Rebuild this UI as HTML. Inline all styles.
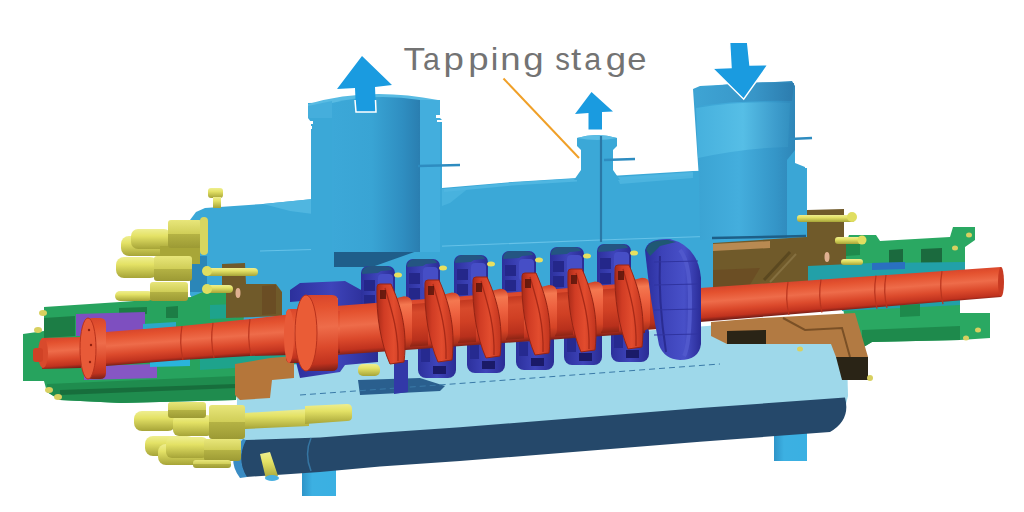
<!DOCTYPE html>
<html><head><meta charset="utf-8">
<style>
html,body{margin:0;padding:0;background:#fff;width:1024px;height:512px;overflow:hidden}
svg{display:block}
.lbl{font-family:"Liberation Sans",sans-serif;font-size:31px;fill:#737373}
</style></head>
<body>
<svg width="1024" height="512" viewBox="0 0 1024 512">
<defs>
<linearGradient id="ltw" x1="0" y1="0" x2="1" y2="0"><stop offset="0" stop-color="#3ca8d8"/><stop offset="0.45" stop-color="#39a4d4"/><stop offset="0.8" stop-color="#2f8ec1"/><stop offset="1" stop-color="#2a7eb0"/></linearGradient>
<linearGradient id="rtw" x1="0" y1="0" x2="1" y2="0"><stop offset="0" stop-color="#3aa2d2"/><stop offset="0.45" stop-color="#44aedd"/><stop offset="0.8" stop-color="#3596c8"/><stop offset="1" stop-color="#2e86b8"/></linearGradient>
<linearGradient id="rtop" x1="0" y1="0" x2="1" y2="0"><stop offset="0" stop-color="#3ea4d4"/><stop offset="0.6" stop-color="#3896c8"/><stop offset="1" stop-color="#2c7cae"/></linearGradient>
<linearGradient id="rband" x1="0" y1="0" x2="1" y2="0"><stop offset="0" stop-color="#46b0dd"/><stop offset="0.5" stop-color="#56bee6"/><stop offset="0.85" stop-color="#3d9ccc"/><stop offset="1" stop-color="#3390c0"/></linearGradient>
<linearGradient id="foot" x1="0" y1="0" x2="1" y2="0"><stop offset="0" stop-color="#2e94c8"/><stop offset="0.3" stop-color="#3cb0e2"/><stop offset="1" stop-color="#3ab0e2"/></linearGradient>
<linearGradient id="navy" x1="0" y1="0" x2="1" y2="0"><stop offset="0" stop-color="#2c309c"/><stop offset="0.5" stop-color="#3e44ba"/><stop offset="1" stop-color="#2a2c94"/></linearGradient>
<linearGradient id="sg1" gradientUnits="userSpaceOnUse" x1="850.5" y1="277.5" x2="852.9" y2="309.5"><stop offset="0" stop-color="#d8462c"/><stop offset="0.15" stop-color="#e4522f"/><stop offset="0.42" stop-color="#ee6c4a"/><stop offset="0.68" stop-color="#dc4a2c"/><stop offset="0.9" stop-color="#c0321e"/><stop offset="1" stop-color="#7a2018"/></linearGradient>
<linearGradient id="sg2" gradientUnits="userSpaceOnUse" x1="490.5" y1="294.0" x2="494.2" y2="344.0"><stop offset="0" stop-color="#d8462c"/><stop offset="0.15" stop-color="#e4522f"/><stop offset="0.42" stop-color="#ee6c4a"/><stop offset="0.68" stop-color="#dc4a2c"/><stop offset="0.9" stop-color="#c0321e"/><stop offset="1" stop-color="#7a2018"/></linearGradient>
<linearGradient id="sg3" gradientUnits="userSpaceOnUse" x1="315.0" y1="312.5" x2="318.1" y2="354.0"><stop offset="0" stop-color="#d8462c"/><stop offset="0.15" stop-color="#e4522f"/><stop offset="0.42" stop-color="#ee6c4a"/><stop offset="0.68" stop-color="#dc4a2c"/><stop offset="0.9" stop-color="#c0321e"/><stop offset="1" stop-color="#7a2018"/></linearGradient>
<linearGradient id="sg4" gradientUnits="userSpaceOnUse" x1="271.0" y1="316.5" x2="273.9" y2="355.5"><stop offset="0" stop-color="#d8462c"/><stop offset="0.15" stop-color="#e4522f"/><stop offset="0.42" stop-color="#ee6c4a"/><stop offset="0.68" stop-color="#dc4a2c"/><stop offset="0.9" stop-color="#c0321e"/><stop offset="1" stop-color="#7a2018"/></linearGradient>
<linearGradient id="sg5" gradientUnits="userSpaceOnUse" x1="216.0" y1="322.5" x2="218.6" y2="358.0"><stop offset="0" stop-color="#d8462c"/><stop offset="0.15" stop-color="#e4522f"/><stop offset="0.42" stop-color="#ee6c4a"/><stop offset="0.68" stop-color="#dc4a2c"/><stop offset="0.9" stop-color="#c0321e"/><stop offset="1" stop-color="#7a2018"/></linearGradient>
<linearGradient id="sg6" gradientUnits="userSpaceOnUse" x1="144.0" y1="329.0" x2="146.5" y2="363.0"><stop offset="0" stop-color="#d8462c"/><stop offset="0.15" stop-color="#e4522f"/><stop offset="0.42" stop-color="#ee6c4a"/><stop offset="0.68" stop-color="#dc4a2c"/><stop offset="0.9" stop-color="#c0321e"/><stop offset="1" stop-color="#7a2018"/></linearGradient>
<linearGradient id="sg7" gradientUnits="userSpaceOnUse" x1="61.5" y1="337.5" x2="63.8" y2="368.5"><stop offset="0" stop-color="#d8462c"/><stop offset="0.15" stop-color="#e4522f"/><stop offset="0.42" stop-color="#ee6c4a"/><stop offset="0.68" stop-color="#dc4a2c"/><stop offset="0.9" stop-color="#c0321e"/><stop offset="1" stop-color="#7a2018"/></linearGradient>
<linearGradient id="sg8" gradientUnits="userSpaceOnUse" x1="96.0" y1="318.0" x2="100.5" y2="379.0"><stop offset="0" stop-color="#d8462c"/><stop offset="0.15" stop-color="#e4522f"/><stop offset="0.42" stop-color="#ee6c4a"/><stop offset="0.68" stop-color="#dc4a2c"/><stop offset="0.9" stop-color="#c0321e"/><stop offset="1" stop-color="#7a2018"/></linearGradient>
<linearGradient id="sg9" gradientUnits="userSpaceOnUse" x1="294.0" y1="309.0" x2="298.0" y2="363.0"><stop offset="0" stop-color="#d8462c"/><stop offset="0.15" stop-color="#e4522f"/><stop offset="0.42" stop-color="#ee6c4a"/><stop offset="0.68" stop-color="#dc4a2c"/><stop offset="0.9" stop-color="#c0321e"/><stop offset="1" stop-color="#7a2018"/></linearGradient>
<linearGradient id="sg10" gradientUnits="userSpaceOnUse" x1="321.0" y1="295.0" x2="326.6" y2="371.0"><stop offset="0" stop-color="#d8462c"/><stop offset="0.15" stop-color="#e4522f"/><stop offset="0.42" stop-color="#ee6c4a"/><stop offset="0.68" stop-color="#dc4a2c"/><stop offset="0.9" stop-color="#c0321e"/><stop offset="1" stop-color="#7a2018"/></linearGradient>
<linearGradient id="imp" x1="0" y1="0" x2="1" y2="0"><stop offset="0" stop-color="#a82a18"/><stop offset="0.25" stop-color="#d03c24"/><stop offset="0.6" stop-color="#e24c2e"/><stop offset="1" stop-color="#c0341e"/></linearGradient>
<linearGradient id="sg11" gradientUnits="userSpaceOnUse" x1="419.0" y1="303.6" x2="422.1" y2="346.1"><stop offset="0" stop-color="#c23820"/><stop offset="0.2" stop-color="#d84a2c"/><stop offset="0.5" stop-color="#d04024"/><stop offset="0.85" stop-color="#b8301c"/><stop offset="1" stop-color="#8a2414"/></linearGradient>
<linearGradient id="sg12" gradientUnits="userSpaceOnUse" x1="401.0" y1="297.1" x2="404.8" y2="348.4"><stop offset="0" stop-color="#d04428"/><stop offset="0.15" stop-color="#f47850"/><stop offset="0.4" stop-color="#ee6240"/><stop offset="0.8" stop-color="#d64426"/><stop offset="1" stop-color="#a02c18"/></linearGradient>
<linearGradient id="sg13" gradientUnits="userSpaceOnUse" x1="467.0" y1="299.8" x2="470.2" y2="342.7"><stop offset="0" stop-color="#c23820"/><stop offset="0.2" stop-color="#d84a2c"/><stop offset="0.5" stop-color="#d04024"/><stop offset="0.85" stop-color="#b8301c"/><stop offset="1" stop-color="#8a2414"/></linearGradient>
<linearGradient id="sg14" gradientUnits="userSpaceOnUse" x1="449.0" y1="293.3" x2="452.8" y2="345.0"><stop offset="0" stop-color="#d04428"/><stop offset="0.15" stop-color="#f47850"/><stop offset="0.4" stop-color="#ee6240"/><stop offset="0.8" stop-color="#d64426"/><stop offset="1" stop-color="#a02c18"/></linearGradient>
<linearGradient id="sg15" gradientUnits="userSpaceOnUse" x1="515.0" y1="296.1" x2="518.2" y2="339.2"><stop offset="0" stop-color="#c23820"/><stop offset="0.2" stop-color="#d84a2c"/><stop offset="0.5" stop-color="#d04024"/><stop offset="0.85" stop-color="#b8301c"/><stop offset="1" stop-color="#8a2414"/></linearGradient>
<linearGradient id="sg16" gradientUnits="userSpaceOnUse" x1="497.0" y1="289.6" x2="500.8" y2="341.6"><stop offset="0" stop-color="#d04428"/><stop offset="0.15" stop-color="#f47850"/><stop offset="0.4" stop-color="#ee6240"/><stop offset="0.8" stop-color="#d64426"/><stop offset="1" stop-color="#a02c18"/></linearGradient>
<linearGradient id="sg17" gradientUnits="userSpaceOnUse" x1="564.0" y1="292.3" x2="567.2" y2="335.8"><stop offset="0" stop-color="#c23820"/><stop offset="0.2" stop-color="#d84a2c"/><stop offset="0.5" stop-color="#d04024"/><stop offset="0.85" stop-color="#b8301c"/><stop offset="1" stop-color="#8a2414"/></linearGradient>
<linearGradient id="sg18" gradientUnits="userSpaceOnUse" x1="546.0" y1="285.8" x2="549.9" y2="338.1"><stop offset="0" stop-color="#d04428"/><stop offset="0.15" stop-color="#f47850"/><stop offset="0.4" stop-color="#ee6240"/><stop offset="0.8" stop-color="#d64426"/><stop offset="1" stop-color="#a02c18"/></linearGradient>
<linearGradient id="sg19" gradientUnits="userSpaceOnUse" x1="610.0" y1="288.7" x2="613.2" y2="332.5"><stop offset="0" stop-color="#c23820"/><stop offset="0.2" stop-color="#d84a2c"/><stop offset="0.5" stop-color="#d04024"/><stop offset="0.85" stop-color="#b8301c"/><stop offset="1" stop-color="#8a2414"/></linearGradient>
<linearGradient id="sg20" gradientUnits="userSpaceOnUse" x1="592.0" y1="282.2" x2="595.9" y2="334.8"><stop offset="0" stop-color="#d04428"/><stop offset="0.15" stop-color="#f47850"/><stop offset="0.4" stop-color="#ee6240"/><stop offset="0.8" stop-color="#d64426"/><stop offset="1" stop-color="#a02c18"/></linearGradient>
<linearGradient id="sg21" gradientUnits="userSpaceOnUse" x1="657.0" y1="285.1" x2="660.3" y2="329.1"><stop offset="0" stop-color="#c23820"/><stop offset="0.2" stop-color="#d84a2c"/><stop offset="0.5" stop-color="#d04024"/><stop offset="0.85" stop-color="#b8301c"/><stop offset="1" stop-color="#8a2414"/></linearGradient>
<linearGradient id="sg22" gradientUnits="userSpaceOnUse" x1="639.0" y1="278.6" x2="642.9" y2="331.5"><stop offset="0" stop-color="#d04428"/><stop offset="0.15" stop-color="#f47850"/><stop offset="0.4" stop-color="#ee6240"/><stop offset="0.8" stop-color="#d64426"/><stop offset="1" stop-color="#a02c18"/></linearGradient>
<linearGradient id="disc" x1="0" y1="0" x2="1" y2="0"><stop offset="0" stop-color="#2a2e9c"/><stop offset="0.3" stop-color="#3c42b8"/><stop offset="0.7" stop-color="#4850c8"/><stop offset="1" stop-color="#2a2c98"/></linearGradient>
<linearGradient id="yel" x1="0" y1="0" x2="0" y2="1"><stop offset="0" stop-color="#eeee90"/><stop offset="0.35" stop-color="#e4e266"/><stop offset="1" stop-color="#a6a438"/></linearGradient>
<linearGradient id="nut" x1="0" y1="0" x2="0" y2="1"><stop offset="0" stop-color="#e8e67a"/><stop offset="0.5" stop-color="#d0ce58"/><stop offset="0.51" stop-color="#b4b244"/><stop offset="1" stop-color="#9c9a34"/></linearGradient>
</defs>
<polygon fill="#3ba8d7" points="190,220 196,212 205,208 263,204 313,199 442,188 512,182 577,178 693,171 807,168 807,300 300,330 207,320 190,295" />
<polygon fill="#50b6e0" points="263,204 313,199 313,214 290,211" />
<polygon fill="#48b2de" points="442,189 470,187 450,203 442,206" />
<polygon fill="#4cb4df" points="617,177 693,172 693,178 620,184" />
<polyline points="444,190.5 512,184 577,180" fill="none" stroke="#4fb6e1" stroke-width="3"/>
<polyline points="618,179 693,174" fill="none" stroke="#4fb6e1" stroke-width="3"/>
<polygon fill="#2b86b8" points="190,256 207,256 207,292 190,292" />
<polyline fill="none" stroke="#66c2e8" stroke-width="1.2" points="260,251 330,249 420,247 600,240 720,236"/>
<polygon fill="#1f5e8a" points="334,245 420,240 420,250 372,267 334,267" />
<path d="M334,245 Q377,252 420,240" fill="none" stroke="#1d5f8c" stroke-width="2"/>
<rect x="377" y="248" width="8" height="3" fill="#1a3550"/>
<polygon fill="#3ba8d7" points="308,103 438,100 438,116 442,120 442,250 311,250 311,122 308,118" />
<path d="M308,104 Q368,86 438,100 L438,105 Q370,94 308,110 Z" fill="#58bbe3"/>
<path d="M308,106 L332,101 L332,118 L308,118 Z" fill="#45aedc"/>
<path d="M332,103 Q374,93 420,100 L420,252 L332,252 Z" fill="url(#ltw)"/>
<rect x="420" y="100" width="20" height="152" fill="#43aedd"/>
<rect x="307" y="121" width="6" height="3" fill="#fff"/><rect x="307" y="126" width="5" height="3" fill="#fff"/>
<rect x="436" y="115" width="7" height="3" fill="#fff"/><rect x="437" y="120" width="6" height="2" fill="#fff"/>
<line x1="418" y1="166" x2="460" y2="165" stroke="#2e8cc0" stroke-width="2.5"/>
<path d="M577,138 Q597,132 617,138 L617,146 L613,150 L613,170 L620,180 L574,180 L581,170 L581,150 L577,146 Z" fill="#3ba8d7"/>
<path d="M577,138 Q597,132 617,138 Q597,142 577,138 Z" fill="#5cbde4"/>
<line x1="601" y1="136" x2="601" y2="242" stroke="#2a78a6" stroke-width="2.2"/>
<line x1="604" y1="160" x2="635" y2="159" stroke="#2e8cc0" stroke-width="2.5"/>
<polygon fill="#3aa6d6" points="786,150 795,150 795,163 805,167 806,236 786,236" />
<path d="M693,89 L700,86 L792,81 L795,86 L795,150 L787,160 L787,238 L700,240 L699,179 Z" fill="url(#rtw)"/>
<path d="M694,89 Q744,80 794,83 L792,101 Q744,100 696,106 Z" fill="url(#rtop)"/>
<path d="M696,108 Q744,100 790,103 L788,147 Q744,148 698,158 Z" fill="url(#rband)"/>
<line x1="790" y1="139" x2="812" y2="138" stroke="#2e8cc0" stroke-width="2.5"/>
<line x1="712" y1="238" x2="806" y2="236" stroke="#1d5f88" stroke-width="2.5"/>
<rect x="302" y="462" width="34" height="34" fill="url(#foot)"/>
<rect x="774" y="428" width="33" height="33" fill="url(#foot)"/>
<polygon fill="#9ed8ea" points="238,362 720,325 846,318 848,396 845,408 245,452 236,440" />
<path d="M245,440 L320,437.5 L380,432.8 L460,427.3 L700,408 L845,397.6 Q851,420 830,432 L700,441.7 L460,461 L380,466.4 L320,472 L246,477 Q236,460 245,440 Z" fill="#25486a"/>
<path d="M243,439 Q225,458 240,478 L247,477 Q236,460 246,440 Z" fill="#3a8cc4"/>
<path d="M311,438 Q304,454 311,471" fill="none" stroke="#3575a2" stroke-width="1.5"/>
<polygon fill="#2a5f8e" points="358,380 420,378 445,386 440,391 360,395" />
<polyline fill="none" stroke="#3a7aa8" stroke-width="1" stroke-dasharray="6,4" points="300,395 480,382 720,364"/>
<polygon fill="#705a2a" points="713,243 790,238 807,237 807,210 844,209 844,240 848,243 848,268 844,270 844,291 713,293" />
<polygon fill="#b88a52" points="713,244 770,241 770,248 713,251" />
<path d="M790,252 L764,280" stroke="#5a4820" stroke-width="3"/>
<path d="M796,254 L770,282" stroke="#857040" stroke-width="2"/>
<polygon fill="#6b4e24" points="713,270 760,268 745,293 713,293" />
<ellipse cx="827" cy="257" rx="2.5" ry="5" fill="#e0b090"/>
<polygon fill="#2aa862" points="846,243 849,235 876,235 880,241 950,237 953,227 975,227 975,240 965,247 965,263 872,266 846,269" />
<polygon fill="#1b6a3e" points="889,250 903,249 903,268 889,268" />
<polygon fill="#1b6a3e" points="921,249 942,248 942,268 921,268" />
<polygon fill="#1e8a4c" points="846,243 860,242 860,255 846,256" />
<polygon fill="#22a0a8" points="808,266 872,263 965,262 965,278 872,282 808,288" />
<polygon fill="#2a70c0" points="872,263 905,262 905,269 872,270" />
<polygon fill="#2aa862" points="842,305 960,298 960,313 990,313 990,338 960,340 872,342 862,348 852,345 846,322" />
<polygon fill="#1e8a4c" points="862,330 960,326 960,340 872,342 862,348" />
<polygon fill="#22a0a8" points="842,303 960,296 960,305 842,311" />
<polygon fill="#1e8a4c" points="900,305 920,304 920,316 900,317" />
<polygon fill="#b27a42" points="711,322 760,318 855,313 868,357 836,357 831,344 766,344 727,344 711,336" />
<polyline points="783,318 805,330 842,328 850,357" fill="none" stroke="#7a5026" stroke-width="2"/>
<polygon fill="#2a2416" points="836,357 868,357 868,380 842,380" />
<polygon fill="#2a2416" points="727,331 766,330 766,344 727,344" />
<ellipse cx="870" cy="378" rx="3" ry="3" fill="#d8d060"/><ellipse cx="800" cy="349" rx="3" ry="2.5" fill="#d8d060"/>
<ellipse cx="969" cy="235" rx="3" ry="2.5" fill="#d8d060"/>
<ellipse cx="955" cy="248" rx="3" ry="2.5" fill="#d8d060"/>
<ellipse cx="978" cy="330" rx="3" ry="2.5" fill="#d8d060"/>
<ellipse cx="966" cy="338" rx="3" ry="2.5" fill="#d8d060"/>
<polygon fill="#27a35e" points="23,334 44,331 44,307 120,302 191,297 217,286 240,286 245,300 240,372 236,400 121,403 60,400 47,392 44,381 23,381" />
<polygon fill="#1c7d45" points="44,318 75,316 75,336 44,338" />
<polygon fill="#1c7d45" points="119,308 147,307 147,314 119,315" />
<polygon fill="#1c7d45" points="166,307 178,306 178,318 166,318" />
<polygon fill="#1f8c4e" points="47,384 236,376 236,400 121,403 60,400 47,392" />
<polygon fill="#176e3c" points="60,390 236,384 236,388 60,395" />
<polygon fill="#7e4fc0" points="76,314 145,312 145,335 76,336" />
<polygon fill="#8656c4" points="84,366 157,364 157,378 84,380" />
<polygon fill="#2aa8c8" points="143,324 176,322 176,331 143,332" />
<polygon fill="#2ab4dc" points="150,361 190,359 190,366 150,367" />
<polygon fill="#1ea38c" points="210,305 236,304 236,318 210,319" />
<polygon fill="#1ea38c" points="200,356 236,354 236,366 200,368" />
<polygon fill="#705a2a" points="222,264 245,263 246,284 276,284 282,292 282,316 226,318 226,290 222,289" />
<polygon fill="#6a4d24" points="262,286 276,285 276,314 262,315" />
<ellipse cx="238" cy="293" rx="2.5" ry="5" fill="#e0b090"/>
<polygon fill="#1ea38c" points="200,352 300,346 300,364 200,370" />
<polygon fill="#b5763a" points="235,364 270,358 294,356 294,378 272,380 270,398 240,400 235,395" />
<ellipse cx="43" cy="313" rx="4" ry="3" fill="#d8d060"/>
<ellipse cx="38" cy="330" rx="4" ry="3" fill="#d8d060"/>
<ellipse cx="49" cy="390" rx="4" ry="3" fill="#d8d060"/>
<ellipse cx="58" cy="397" rx="4" ry="3" fill="#d8d060"/>
<polygon fill="url(#navy)" points="290,290 300,283 345,281 372,296 372,306 338,307 338,298 290,302" />
<polygon fill="url(#navy)" points="296,362 338,352 378,349 378,362 345,365 340,372 300,378" />
<polygon fill="#3238a8" points="394,360 408,360 408,392 394,394" />
<rect x="361" y="266" width="34" height="44" rx="7" fill="url(#navy)"/>
<path d="M362,274 Q362,266 371,266 L383,266 Q391,266 392,270 L381,271 L378,273 Z" fill="#245582"/>
<rect x="364" y="280" width="11" height="11" fill="#24278a"/>
<rect x="364" y="295" width="11" height="11" fill="#24278a"/>
<rect x="378" y="274" width="15" height="22" rx="4" fill="#464ec6"/>
<ellipse cx="398" cy="275" rx="4" ry="2.5" fill="#e8e060"/>
<rect x="406" y="259" width="34" height="51" rx="7" fill="url(#navy)"/>
<path d="M407,267 Q407,259 416,259 L428,259 Q436,259 437,263 L426,264 L423,266 Z" fill="#245582"/>
<rect x="409" y="273" width="11" height="11" fill="#24278a"/>
<rect x="409" y="288" width="11" height="11" fill="#24278a"/>
<rect x="423" y="267" width="15" height="22" rx="4" fill="#464ec6"/>
<ellipse cx="443" cy="268" rx="4" ry="2.5" fill="#e8e060"/>
<rect x="454" y="255" width="34" height="55" rx="7" fill="url(#navy)"/>
<path d="M455,263 Q455,255 464,255 L476,255 Q484,255 485,259 L474,260 L471,262 Z" fill="#245582"/>
<rect x="457" y="269" width="11" height="11" fill="#24278a"/>
<rect x="457" y="284" width="11" height="11" fill="#24278a"/>
<rect x="471" y="263" width="15" height="22" rx="4" fill="#464ec6"/>
<ellipse cx="491" cy="264" rx="4" ry="2.5" fill="#e8e060"/>
<rect x="502" y="251" width="34" height="59" rx="7" fill="url(#navy)"/>
<path d="M503,259 Q503,251 512,251 L524,251 Q532,251 533,255 L522,256 L519,258 Z" fill="#245582"/>
<rect x="505" y="265" width="11" height="11" fill="#24278a"/>
<rect x="505" y="280" width="11" height="11" fill="#24278a"/>
<rect x="519" y="259" width="15" height="22" rx="4" fill="#464ec6"/>
<ellipse cx="539" cy="260" rx="4" ry="2.5" fill="#e8e060"/>
<rect x="550" y="247" width="34" height="63" rx="7" fill="url(#navy)"/>
<path d="M551,255 Q551,247 560,247 L572,247 Q580,247 581,251 L570,252 L567,254 Z" fill="#245582"/>
<rect x="553" y="261" width="11" height="11" fill="#24278a"/>
<rect x="553" y="276" width="11" height="11" fill="#24278a"/>
<rect x="567" y="255" width="15" height="22" rx="4" fill="#464ec6"/>
<ellipse cx="587" cy="256" rx="4" ry="2.5" fill="#e8e060"/>
<rect x="597" y="244" width="34" height="66" rx="7" fill="url(#navy)"/>
<path d="M598,252 Q598,244 607,244 L619,244 Q627,244 628,248 L617,249 L614,251 Z" fill="#245582"/>
<rect x="600" y="258" width="11" height="11" fill="#24278a"/>
<rect x="600" y="273" width="11" height="11" fill="#24278a"/>
<rect x="614" y="252" width="15" height="22" rx="4" fill="#464ec6"/>
<ellipse cx="634" cy="253" rx="4" ry="2.5" fill="#e8e060"/>
<rect x="418" y="338" width="38" height="40" rx="8" fill="url(#navy)"/>
<rect x="421" y="348" width="9" height="14" fill="#262a90"/>
<rect x="433" y="366" width="13" height="8" fill="#1a1a68"/>
<rect x="467" y="335" width="38" height="38" rx="8" fill="url(#navy)"/>
<rect x="470" y="345" width="9" height="14" fill="#262a90"/>
<rect x="482" y="361" width="13" height="8" fill="#1a1a68"/>
<rect x="516" y="332" width="38" height="38" rx="8" fill="url(#navy)"/>
<rect x="519" y="342" width="9" height="14" fill="#262a90"/>
<rect x="531" y="358" width="13" height="8" fill="#1a1a68"/>
<rect x="564" y="328" width="38" height="37" rx="8" fill="url(#navy)"/>
<rect x="567" y="338" width="9" height="14" fill="#262a90"/>
<rect x="579" y="353" width="13" height="8" fill="#1a1a68"/>
<rect x="611" y="324" width="38" height="38" rx="8" fill="url(#navy)"/>
<rect x="614" y="334" width="9" height="14" fill="#262a90"/>
<rect x="626" y="350" width="13" height="8" fill="#1a1a68"/>
<polygon fill="url(#sg1)" points="700,288 1001,267 1001,297 700,322" />
<ellipse cx="1001" cy="282" rx="3" ry="15" fill="#c83a22"/>
<path d="M788,281.8 Q785,298.8 789,314.8" fill="none" stroke="#b8341e" stroke-width="1.2"/>
<path d="M821,279.5 Q818,296.5 822,312.5" fill="none" stroke="#b8341e" stroke-width="1.2"/>
<path d="M876,275.7 Q873,292.7 877,308.7" fill="none" stroke="#b8341e" stroke-width="1.2"/>
<path d="M886,275.0 Q883,292.0 887,308.0" fill="none" stroke="#b8341e" stroke-width="1.2"/>
<path d="M942,271.1 Q939,288.1 943,304.1" fill="none" stroke="#b8341e" stroke-width="1.2"/>
<polygon fill="url(#sg2)" points="336,306 645,282 645,333 336,355" />
<polygon fill="url(#sg3)" points="290,314 340,311 340,353 290,355" />
<polygon fill="url(#sg4)" points="250,319 292,314 292,355 250,356" />
<polygon fill="url(#sg5)" points="182,326 250,319 250,356 182,360" />
<polygon fill="url(#sg6)" points="106,332 182,326 182,360 106,366" />
<polygon fill="url(#sg7)" points="42,338 81,337 81,368 42,369" />
<ellipse cx="43" cy="353" rx="5" ry="15" fill="#d84a2c"/>
<rect x="33" y="348" width="10" height="14" rx="3" fill="#d04226"/>
<path d="M182,326.0 Q179,343.0 183,360.0" fill="none" stroke="#b8341e" stroke-width="1.2"/>
<path d="M213,322.9 Q210,340.5 214,358.1" fill="none" stroke="#b8341e" stroke-width="1.2"/>
<path d="M250,319.2 Q247,337.6 251,355.9" fill="none" stroke="#b8341e" stroke-width="1.2"/>
<path d="M86,324 Q86,318 92,318 L100,318 Q106,318 106,324 L106,373 Q106,379 100,379 L92,379 Q86,379 86,373 Z" fill="url(#sg8)"/>
<ellipse cx="88" cy="348.5" rx="8" ry="30.5" fill="#e85a38" stroke="#b8321c" stroke-width="1"/>
<circle cx="89" cy="330" r="1.2" fill="#902010"/>
<circle cx="91" cy="345" r="1.2" fill="#902010"/>
<circle cx="90" cy="362" r="1.2" fill="#902010"/>
<path d="M286,314 Q286,309 291,309 L297,309 Q302,309 302,314 L302,358 Q302,363 297,363 L291,363 Q286,363 286,358 Z" fill="url(#sg9)"/>
<ellipse cx="289" cy="336" rx="5" ry="27" fill="#e85a38"/>
<path d="M304,301 Q304,295 310,295 L332,295 Q338,295 338,301 L338,365 Q338,371 332,371 L310,371 Q304,371 304,365 Z" fill="url(#sg10)"/>
<ellipse cx="306" cy="333" rx="11" ry="38" fill="#ea5c36"/>
<ellipse cx="306" cy="333" rx="11" ry="38" fill="none" stroke="#b8321c" stroke-width="1"/>
<polygon fill="url(#sg11)" points="410,304.252 428,302.852 428,345.431 410,346.731" />
<path d="M390,305.80582524271847 Q390,297.80582524271847 398,297.80582524271847 L404,296.30582524271847 Q412,296.30582524271847 412,304.30582524271847 L412,339.65533980582524 Q412,347.65533980582524 404,347.65533980582524 L398,349.15533980582524 Q390,349.15533980582524 390,341.15533980582524 Z" fill="url(#sg12)"/>
<path d="M377,287 Q377,284 380,284 L391,284 C400,304.0 408,328.0 404,362 L390,364 C381,344.0 376,316.0 377,287 Z" fill="url(#imp)" stroke="#962414" stroke-width="1"/>
<path d="M385,288 C391,308.0 399,332.0 398,361" fill="none" stroke="#a82a18" stroke-width="1.3"/>
<rect x="380" y="290" width="6" height="9" fill="#4a1008" opacity="0.75"/>
<polygon fill="url(#sg13)" points="458,300.524 476,299.124 476,342.014 458,343.314" />
<path d="M438,302.07766990291265 Q438,294.07766990291265 446,294.07766990291265 L452,292.57766990291265 Q460,292.57766990291265 460,300.57766990291265 L460,336.2378640776699 Q460,344.2378640776699 452,344.2378640776699 L446,345.7378640776699 Q438,345.7378640776699 438,337.7378640776699 Z" fill="url(#sg14)"/>
<path d="M425,283 Q425,280 428,280 L439,280 C448,300.5 456,325.1 452,360 L438,362 C429,341.5 424,312.8 425,283 Z" fill="url(#imp)" stroke="#962414" stroke-width="1"/>
<path d="M433,284 C439,304.6 447,329.2 446,359" fill="none" stroke="#a82a18" stroke-width="1.3"/>
<rect x="428" y="286" width="6" height="9" fill="#4a1008" opacity="0.75"/>
<polygon fill="url(#sg15)" points="506,296.796 524,295.396 524,338.596 506,339.896" />
<path d="M486,298.3495145631068 Q486,290.3495145631068 494,290.3495145631068 L500,288.8495145631068 Q508,288.8495145631068 508,296.8495145631068 L508,332.8203883495146 Q508,340.8203883495146 500,340.8203883495146 L494,342.3203883495146 Q486,342.3203883495146 486,334.3203883495146 Z" fill="url(#sg16)"/>
<path d="M473,280 Q473,277 476,277 L487,277 C496,297.2 504,321.6 500,356 L486,358 C477,337.8 472,309.4 473,280 Z" fill="url(#imp)" stroke="#962414" stroke-width="1"/>
<path d="M481,281 C487,301.3 495,325.6 494,355" fill="none" stroke="#a82a18" stroke-width="1.3"/>
<rect x="476" y="283" width="6" height="9" fill="#4a1008" opacity="0.75"/>
<polygon fill="url(#sg17)" points="555,292.99 573,291.59 573,335.108 555,336.408" />
<path d="M535,294.54368932038835 Q535,286.54368932038835 543,286.54368932038835 L549,285.04368932038835 Q557,285.04368932038835 557,293.04368932038835 L557,329.331715210356 Q557,337.331715210356 549,337.331715210356 L543,338.831715210356 Q535,338.831715210356 535,330.831715210356 Z" fill="url(#sg18)"/>
<path d="M522,276 Q522,273 525,273 L536,273 C545,293.5 553,318.1 549,353 L535,355 C526,334.5 521,305.8 522,276 Z" fill="url(#imp)" stroke="#962414" stroke-width="1"/>
<path d="M530,277 C536,297.6 544,322.2 543,352" fill="none" stroke="#a82a18" stroke-width="1.3"/>
<rect x="525" y="279" width="6" height="9" fill="#4a1008" opacity="0.75"/>
<polygon fill="url(#sg19)" points="601,289.417 619,288.017 619,331.833 601,333.133" />
<path d="M581,290.97087378640776 Q581,282.97087378640776 589,282.97087378640776 L595,281.47087378640776 Q603,281.47087378640776 603,289.47087378640776 L603,326.05663430420714 Q603,334.05663430420714 595,334.05663430420714 L589,335.55663430420714 Q581,335.55663430420714 581,327.55663430420714 Z" fill="url(#sg20)"/>
<path d="M568,272 Q568,269 571,269 L582,269 C591,289.8 599,314.6 595,350 L581,352 C572,331.2 567,302.2 568,272 Z" fill="url(#imp)" stroke="#962414" stroke-width="1"/>
<path d="M576,273 C582,293.9 590,318.8 589,349" fill="none" stroke="#a82a18" stroke-width="1.3"/>
<rect x="571" y="275" width="6" height="9" fill="#4a1008" opacity="0.75"/>
<polygon fill="url(#sg21)" points="648,285.767 666,284.367 666,328.486 648,329.786" />
<path d="M628,287.3203883495146 Q628,279.3203883495146 636,279.3203883495146 L642,277.8203883495146 Q650,277.8203883495146 650,285.8203883495146 L650,322.71035598705504 Q650,330.71035598705504 642,330.71035598705504 L636,332.21035598705504 Q628,332.21035598705504 628,324.21035598705504 Z" fill="url(#sg22)"/>
<path d="M615,268 Q615,265 618,265 L629,265 C638,286.0 646,311.2 642,347 L628,349 C619,328.0 614,298.6 615,268 Z" fill="url(#imp)" stroke="#962414" stroke-width="1"/>
<path d="M623,269 C629,290.2 637,315.4 636,346" fill="none" stroke="#a82a18" stroke-width="1.3"/>
<rect x="618" y="271" width="6" height="9" fill="#4a1008" opacity="0.75"/>
<path d="M645,250 Q648,238 670,239 Q698,246 701,278 L701,344 Q699,360 680,360 Q664,359 659,345 Q650,300 645,250 Z" fill="url(#disc)"/>
<path d="M646,250 Q648,239 668,240 L676,242 L660,246 L650,256 Z" fill="#1f5874"/>
<path d="M680,250 Q690,262 690,300 Q690,345 684,356" fill="none" stroke="#5058cc" stroke-width="4"/>
<path d="M660,256 Q658,300 666,352" fill="none" stroke="#2a2c92" stroke-width="2"/>
<line x1="654" y1="262" x2="698" y2="261" stroke="#3034a0" stroke-width="1.2"/>
<line x1="654" y1="285" x2="698" y2="284" stroke="#3034a0" stroke-width="1.2"/>
<line x1="654" y1="310" x2="698" y2="309" stroke="#3034a0" stroke-width="1.2"/>
<line x1="654" y1="335" x2="698" y2="334" stroke="#3034a0" stroke-width="1.2"/>
<g fill="url(#yel)">
<rect x="208" y="188" width="15" height="10" rx="3"/>
<rect x="213" y="197" width="8" height="11" rx="0"/>
<rect x="121" y="236" width="50" height="20" rx="8"/>
<rect x="131" y="229" width="40" height="20" rx="7"/>
<rect x="116" y="257" width="42" height="21" rx="8"/>
<rect x="115" y="291" width="38" height="10" rx="5"/>
<rect x="203" y="268" width="55" height="8" rx="4"/>
<rect x="203" y="285" width="30" height="8" rx="4"/>
<rect x="134" y="411" width="42" height="20" rx="8"/>
<rect x="173" y="415" width="40" height="21" rx="6"/>
<rect x="145" y="436" width="50" height="20" rx="8"/>
<rect x="158" y="444" width="50" height="21" rx="8"/>
<rect x="166" y="437" width="42" height="21" rx="6"/>
<rect x="358" y="364" width="22" height="12" rx="5"/>
<rect x="797" y="215" width="58" height="7" rx="3"/>
<rect x="835" y="237" width="30" height="7" rx="3"/>
<rect x="841" y="259" width="22" height="6" rx="3"/>
<polygon points="260,454 270,452 278,476 266,479"/>
<path d="M245,413 L309,409 L309,426 L245,429 Z"/>
<path d="M305,406 L347,404 Q352,404 352,409 L352,417 Q352,421 347,421 L305,424 Z"/>
</g>
<ellipse cx="272" cy="478" rx="7" ry="3" fill="#4ab0e0"/>
<g fill="url(#nut)">
<rect x="160" y="246" width="40" height="18" fill="#a8a638"/>
<rect x="168" y="220" width="34" height="28" rx="3"/>
<rect x="154" y="256" width="38" height="25" rx="3"/>
<rect x="150" y="282" width="38" height="19" rx="3"/>
<rect x="168" y="402" width="38" height="16" rx="3"/>
<rect x="209" y="405" width="36" height="34" rx="3"/>
<rect x="204" y="439" width="37" height="22" rx="3"/>
<rect x="193" y="460" width="38" height="8" rx="3"/>
</g>
<rect x="200" y="217" width="8" height="38" rx="4" fill="#d8d660"/>
<circle cx="207" cy="271" r="5" fill="#e0de60"/><circle cx="207" cy="289" r="5" fill="#e0de60"/>
<circle cx="852" cy="217" r="5" fill="#e0de60"/><circle cx="862" cy="240" r="4.5" fill="#e0de60"/>
<g fill="#1a9be0">
<path d="M362,56 L392,85 L375,87 L376,112 L356,112 L355,88 L337,89 Z"/>
<path d="M355,100 L356,112 L376,112 L375.5,100" fill="none" stroke="#fff" stroke-width="1.5"/>
<path d="M591.5,92 L613,111.5 L602,112 L602,129.5 L588.5,129.5 L588.5,113 L575,114 Z"/>
<path d="M729.6,42.2 L747.6,42.2 L750,65 L768,64.8 L743.7,99.2 L712.4,68.3 L731,67.5 Z" stroke="#fff" stroke-width="1.5"/>
</g>
<line x1="503.5" y1="78.5" x2="579" y2="158" stroke="#f0a028" stroke-width="2"/>
<g class="lbl">
<text transform="translate(403.61,69.5) scale(1.141,1)">T</text>
<text transform="translate(423.11,69.5) scale(0.98,1)">a</text>
<text transform="translate(443.47,69.5) scale(1.18,1)">p</text>
<text transform="translate(468.17,69.5) scale(1.18,1)">p</text>
<text transform="translate(490.72,69.5) scale(1.101,1)">i</text>
<text transform="translate(500.18,69.5) scale(1.18,1)">n</text>
<text transform="translate(523.36,69.5) scale(1.18,1)">g</text>
<text transform="translate(555.26,69.5) scale(0.95,1)">s</text>
<text transform="translate(571.03,69.5) scale(1.18,1)">t</text>
<text transform="translate(584.31,69.5) scale(0.983,1)">a</text>
<text transform="translate(605.86,69.5) scale(1.18,1)">g</text>
<text transform="translate(627.28,69.5) scale(1.117,1)">e</text>
</g>
</svg>
</body></html>
